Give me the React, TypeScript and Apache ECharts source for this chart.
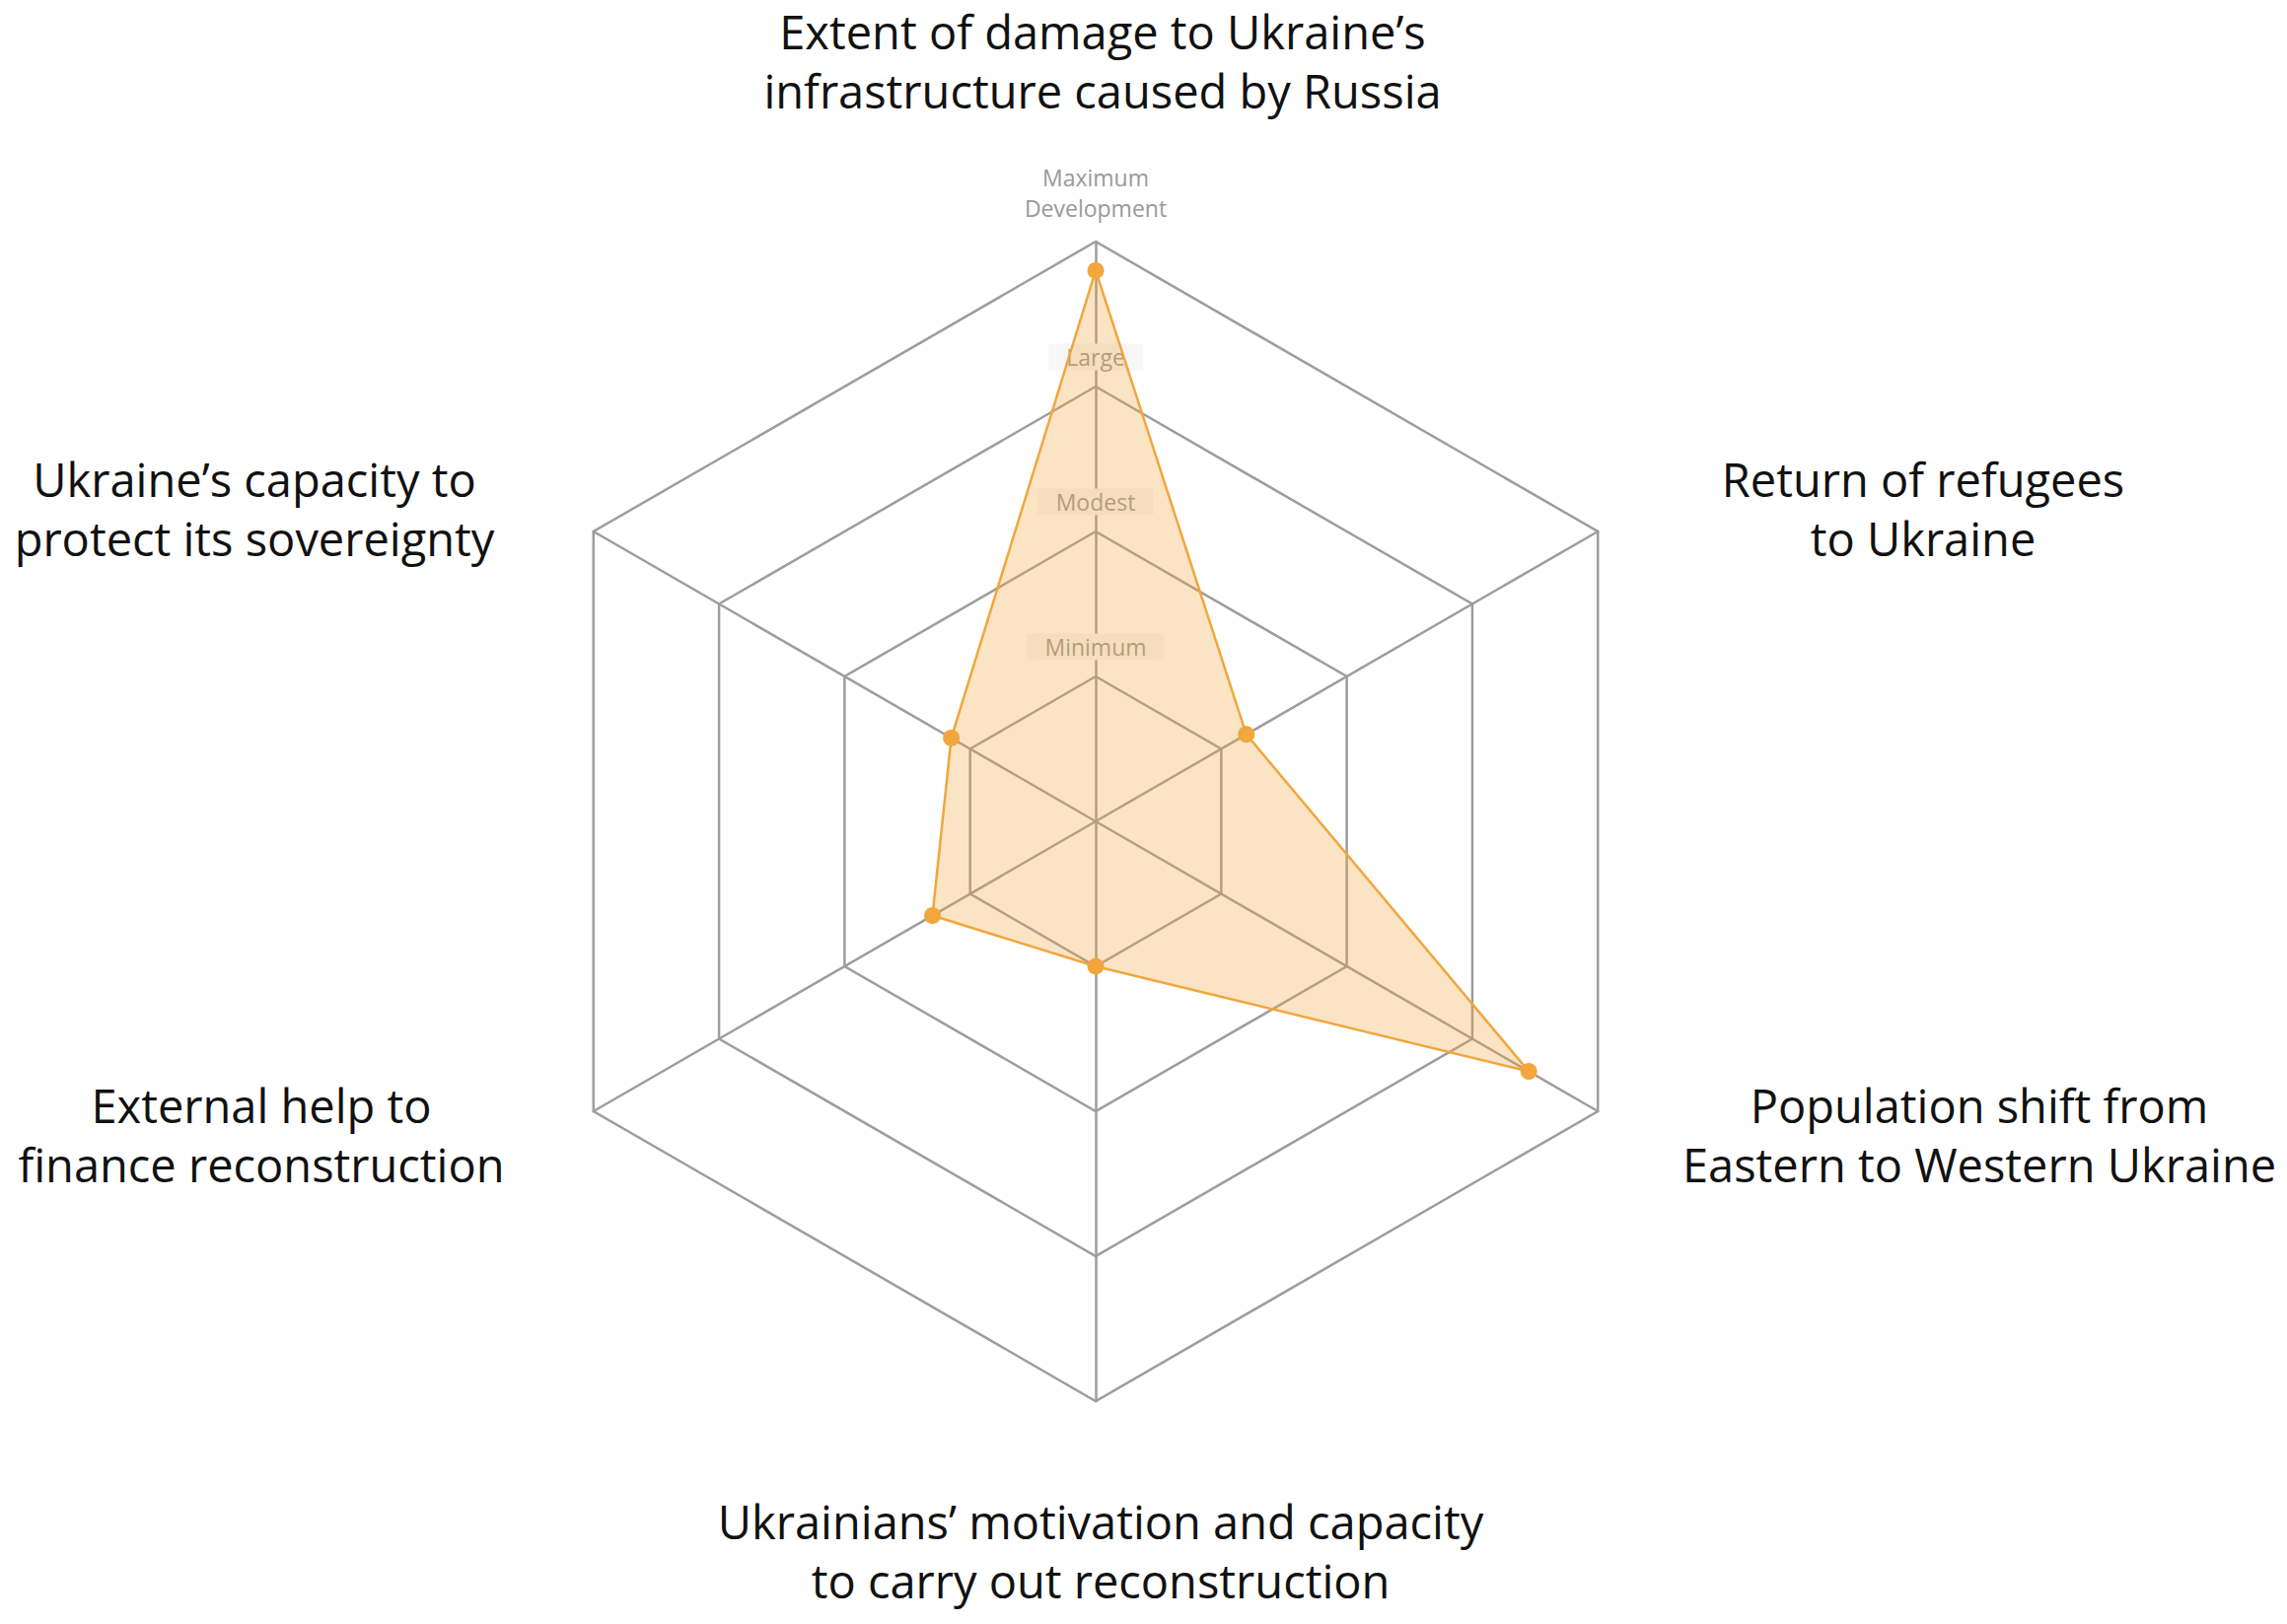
import { useEffect, useRef } from "react";
import * as echarts from "echarts";

// clockwise from the top
const categories = [
  "Extent of damage to Ukraine’s\ninfrastructure caused by Russia",
  "Return of refugees\nto Ukraine",
  "Population shift from\nEastern to Western Ukraine",
  "Ukrainians’ motivation and capacity\nto carry out reconstruction",
  "External help to\nfinance reconstruction",
  "Ukraine’s capacity to\nprotect its sovereignty",
];
const values = [3.8, 1.2, 3.45, 1.0, 1.3, 1.15];
const levelLabels = ["", "Minimum", "Modest", "Large", "Maximum\nDevelopment"];
const levelMax = 4;

const CX = 1111;
const CY = 833;
const R = 588;
// where each category name sits, relative to the radar centre
const nameOffsets: [number, number][] = [
  [7, -771],
  [839, -317],
  [896, 318],
  [5, 740],
  [-846, 318],
  [-853, -317],
];

// echarts lays indicators out counter-clockwise, so flip the order
const order = [0, 5, 4, 3, 2, 1];

const ORANGE = "#F2A63D";
const GRID = "#9d9d9d";
const FONT = "Open Sans";

function levelFormatter(v: number) {
  const txt = levelLabels[Math.round(v)] ?? "";
  if (!txt) return "";
  if (txt.includes("\n")) {
    return txt.split("\n").map((t) => `{max|${t}}`).join("\n") + "\n{gapMax| }";
  }
  return `{box|${txt}}\n{gap| }`;
}

export default function App() {
  const ref = useRef<HTMLDivElement | null>(null);

  useEffect(() => {
    const el = ref.current!;
    const chart = echarts.init(el, undefined, { renderer: "svg" });
    chart.setOption({
      animation: false,
      backgroundColor: "#fff",
      radar: {
        center: [CX, CY],
        radius: R,
        startAngle: 90,
        splitNumber: 4,
        shape: "polygon",
        indicator: order.map((i, k) => ({
          name: categories[i],
          min: 0,
          max: levelMax,
          ...(k === 0 ? { axisLabel: { show: true } } : {}),
        })),
        axisName: { show: false },
        splitLine: { lineStyle: { color: GRID, width: 2.5 } },
        splitArea: { show: false },
        axisLine: { lineStyle: { color: GRID, width: 2.5 } },
        axisTick: { show: false },
        axisLabel: {
          show: false,
          margin: 0,
          align: "center",
          verticalAlign: "bottom",
          formatter: (v: number) => levelFormatter(v),
          rich: {
            box: {
              backgroundColor: "#f7f7f7",
              padding: [2, 18],
              fontSize: 23,
              lineHeight: 24,
              color: "#999999",
              fontFamily: FONT,
            },
            max: { fontSize: 23, lineHeight: 31, color: "#999999", fontFamily: FONT },
            gap: { fontSize: 10, lineHeight: 18 },
            gapMax: { fontSize: 10, lineHeight: 19 },
          },
        },
      },
      series: [
        {
          type: "radar",
          symbol: "circle",
          symbolSize: 17,
          lineStyle: { color: ORANGE, width: 2.5 },
          itemStyle: { color: ORANGE },
          areaStyle: { color: ORANGE, opacity: 0.3 },
          data: [{ value: order.map((i) => values[i]) }],
        },
      ],
      graphic: categories.map((c, i) => ({
        type: "text",
        x: CX + nameOffsets[i][0],
        y: CY + nameOffsets[i][1],
        style: {
          text: c,
          fontSize: 47,
          fontFamily: FONT,
          lineHeight: 60,
          fill: "#111",
          align: "center",
          verticalAlign: "middle",
          textAlign: "center",
          textVerticalAlign: "middle",
        },
      })),
    });
    const ro = new ResizeObserver(() => chart.resize());
    ro.observe(el);
    return () => { ro.disconnect(); chart.dispose(); };
  }, []);

  return <div ref={ref} style={{ position: "fixed", left: 0, top: 0, width: "100vw", height: "100vh" }} />;
}
